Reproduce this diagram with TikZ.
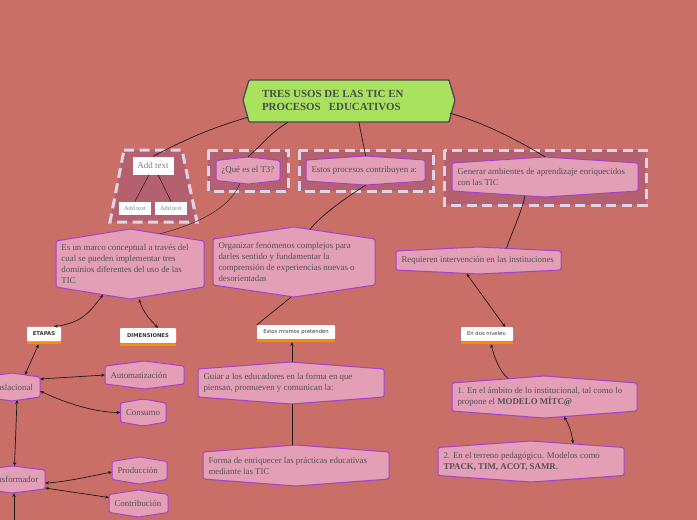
\documentclass[tikz,border=0pt]{standalone}
\usepackage{fontspec}
\setmainfont{Liberation Serif}
\newfontfamily\tagfont{DejaVu Sans}
\usetikzlibrary{arrows.meta,shadows}
\definecolor{mapbg}{HTML}{C96F67}
\definecolor{hexfill}{HTML}{E29FB6}
\definecolor{hexedge}{HTML}{A83FD2}
\definecolor{groupfill}{HTML}{B5606F}
\definecolor{groupdash}{HTML}{E2D3EA}
\definecolor{topfill}{HTML}{A8E25F}
\definecolor{textgray}{HTML}{555055}
\tikzset{
    hexshape/.style={fill=hexfill, draw=hexedge, line width=1pt, rounded corners=1.5pt,
        drop shadow={shadow xshift=0.6pt, shadow yshift=-0.8pt, opacity=0.2}},
    hexbox/.style={inner sep=0pt, text=textgray, font=\fontsize{8.85}{11}\selectfont},
    groupbox/.style={fill=groupfill, draw=groupdash, line width=3pt, dash pattern=on 10pt off 5.5pt},
    tagbox/.style={fill=white, rounded corners=1pt, inner sep=0pt, text=black!80,
        font=\tagfont\fontsize{5.3}{6}\selectfont,
        append after command={([yshift=-1.7pt]\tikzlastnode.south west) edge[draw=orange!90!yellow, line width=2pt]
            ([yshift=-1.7pt]\tikzlastnode.south east)}},
    addbox/.style={fill=white, inner sep=0pt, text=black!50, drop shadow={shadow xshift=0.5pt, shadow yshift=-0.7pt, opacity=0.2}},
    link/.style={draw=black!90, line width=0.7pt},
    twoway/.style={link, {Stealth[length=3.6pt,width=3.2pt]}-{Stealth[length=3.6pt,width=3.2pt]}},
    oneway/.style={link, -{Stealth[length=3.6pt,width=3.2pt]}}
}
% width, left inset, text
\newcommand{\insetlines}[3]{\hbox to #1pt{\hskip #2pt\parbox{\dimexpr #1pt-#2pt\relax}{\raggedright #3}\hss}}
% name, left, top, right, bottom, rise, text
\newcommand{\hexnode}[7]{
    \draw[hexshape] (#2,#3+#6) -- ({(#2+#4)/2},#3) -- (#4,#3+#6) -- (#4,#5-#6) -- ({(#2+#4)/2},#5) -- (#2,#5-#6) -- cycle;
    \pgfmathsetmacro{\hexwidth}{#4-#2}
    \pgfmathsetmacro{\hexheight}{#5-#3}
    \node[hexbox, minimum height=\hexheight pt] (#1) at ({(#2+#4)/2},{(#3+#5)/2}) {\insetlines{\hexwidth}{5.5}{#7}};
}
\begin{document}
\begin{tikzpicture}[x=1pt,y=-1pt]
    \useasboundingbox[fill=mapbg] (0,0) rectangle (697,520);
    % dashed groups
    \draw[groupbox] (124,150) -- (182,150) -- (197,222) -- (110,222) -- cycle;
    \draw[groupbox] (208,150) rectangle (288,191);
    \draw[groupbox] (299,150) rectangle (433,191);
    \draw[groupbox] (444,150) rectangle (646,205);
    % title
    \draw[fill=topfill, draw=black!70, line width=1.3pt, rounded corners=1pt,
        drop shadow={shadow xshift=0.6pt, shadow yshift=-0.8pt, opacity=0.2}]
        (243,100) -- (249,80) -- (449,80) -- (455,100) -- (449,122) -- (249,122) -- cycle;
    \node[inner sep=0pt, minimum height=43pt, text=black!70, font=\fontsize{10.9}{13.2}\selectfont\bfseries]
        (main) at (349,100.5) {\insetlines{212}{19}{TRES USOS DE LAS TIC EN\\PROCESOS\ \ \ EDUCATIVOS}};
    % add text
    \node[addbox, minimum width=41pt, minimum height=18pt, font=\fontsize{9}{10}\selectfont] (addtop) at (153,165.5) {Add text};
    \foreach \name/\x in {addleft/135, addright/171}
        \node[addbox, minimum width=32pt, minimum height=13pt, font=\fontsize{6.3}{7}\selectfont] (\name) at (\x,208) {Add text};
    \draw[link, line width=0.5pt] ([xshift=-4pt]addtop.south) -- (addleft.north);
    \draw[link, line width=0.5pt] ([xshift=5pt]addtop.south) -- (addright.north);
    % text boxes
    \hexnode{que}{216}{157}{280}{184}{3.5}{¿Qué es el T3?}
    \hexnode{estos}{306}{156}{425}{185}{4}{Estos procesos contribuyen a:}
    \hexnode{generar}{452}{157}{638}{197}{6}{Generar ambientes de aprendizaje enriquecidos\\con las TIC}
    \hexnode{marco}{56}{229}{204}{299}{12}{Es un marco conceptual a través del\\cual se pueden implementar tres\\dominios diferentes del uso de las\\TIC}
    \hexnode{organizar}{213}{227}{375}{297}{12}{Organizar fenómenos complejos para\\darles sentido y fundamentar la\\comprensión de experiencias nuevas o\\desorientadas}
    \hexnode{requieren}{396}{247}{561}{274}{4}{Requieren intervención en las instituciones}
    \hexnode{guiar}{198}{362}{384}{404}{7}{Guiar a los educadores en la forma en que\\piensan, promueven y comunican la:}
    \hexnode{forma}{203}{445}{389}{486}{7}{Forma de enriquecer las prácticas educativas\\mediante las TIC}
    \hexnode{uno}{452}{376}{637}{418}{7}{1. En el ámbito de lo institucional, tal como lo\\propone el \textbf{MODELO MÍTC@}}
    \hexnode{dos}{438}{441}{624}{482}{6.5}{2. En el terreno pedagógico. Modelos como\\\textbf{TPACK, TIM, ACOT, SAMR.}}
    \hexnode{auto}{105}{361}{184}{389}{5}{Automatización}
    \hexnode{consumo}{120.5}{399}{166}{426}{4}{Consumo}
    \hexnode{produccion}{112}{457}{167}{484}{4.5}{Producción}
    \hexnode{contrib}{109}{490}{168}{517}{4.5}{Contribución}
    \hexnode{trasl}{-16}{373}{40}{401}{4}{Traslacional}
    \hexnode{transf}{-20}{466}{45}{493}{4}{Transformador}
    % tags
    \node[tagbox, minimum width=34pt, minimum height=14.5pt] (etapas) at (44,334) {\textbf{ETAPAS}};
    \node[tagbox, minimum width=56pt, minimum height=15pt] (dimen) at (148,335.5) {\textbf{DIMENSIONES}};
    \node[tagbox, minimum width=78pt, minimum height=14pt] (pretenden) at (296,332) {Estos mismos pretenden};
    \node[tagbox, minimum width=52pt, minimum height=14pt] (niveles) at (487,334) {En dos niveles:};
    \coordinate (transfend) at (14,522);
    % connectors
    \draw[link] ([xshift=-101pt,yshift=5pt]main.south) .. controls +(-40,12) and +(35,-18) .. (addtop.north);
    \draw[link] ([xshift=-61pt]main.south) .. controls +(-18,11) and +(14,-12) .. (que.north);
    \draw[link] ([xshift=10pt]main.south) .. controls +(2,12) and +(-2,-12) .. (estos.north);
    \draw[link] ([xshift=101pt,yshift=9pt]main.south) .. controls +(35,10) and +(-30,-18) .. (generar.north);
    \draw[link, line width=0.4pt] ([xshift=-8pt,yshift=1pt]que.south) .. controls +(-10,25) and +(38,-10) .. ([xshift=30pt,yshift=-5pt]marco.north);
    \draw[link] (estos.south) .. controls +(-28,18) and +(10,-12) .. ([xshift=16pt,yshift=-2.4pt]organizar.north);
    \draw[link] ([xshift=-20pt,yshift=1.3pt]generar.south) .. controls +(-4,18) and +(5,-15) .. ([xshift=28pt,yshift=-1.4pt]requieren.north);
    \draw[twoway] ([xshift=-12pt,yshift=0.6pt]requieren.south) -- ([xshift=18pt]niveles.north);
    \draw[link] ([xshift=-3pt]organizar.south) -- (pretenden.north west);
    \draw[oneway] ([xshift=1pt]guiar.north) -- ([xshift=-4pt,yshift=-3pt]pretenden.south);
    \draw[link] ([xshift=1pt]guiar.south) -- ([xshift=-4pt,yshift=-0.5pt]forma.north);
    \draw[oneway] ([xshift=-36.5pt,yshift=-2.7pt]uno.north) .. controls +(-9,-8) and +(3,12) .. ([xshift=4pt,yshift=-3pt]niveles.south);
    \draw[twoway] ([xshift=19.5pt,yshift=1.5pt]uno.south) .. controls +(5,8) and +(-1,-10) .. ([xshift=42pt,yshift=-2.7pt]dos.north);
    \draw[twoway] ([xshift=-27pt,yshift=4.4pt]marco.south) .. controls +(-14,18) and +(28,-4) .. ([xshift=10pt]etapas.north);
    \draw[twoway] ([xshift=9pt]marco.south) .. controls +(4,12) and +(-10,-10) .. ([xshift=10pt]dimen.north);
    \draw[twoway] ([xshift=-5.5pt,yshift=-3pt]etapas.south) -- ([xshift=13pt,yshift=-2pt]trasl.north);
    \draw[twoway] ([yshift=8pt]trasl.east) -- (auto.west);
    \draw[twoway] ([yshift=-4pt]trasl.east) .. controls +(25,12) and +(-25,0) .. (consumo.west);
    \draw[twoway] ([xshift=5pt,yshift=1pt]trasl.south) -- ([xshift=2pt]transf.north);
    \draw[twoway] ([yshift=-3.5pt]transf.east) .. controls +(20,-1) and +(-20,4) .. ([yshift=-1.5pt]produccion.west);
    \draw[twoway] ([yshift=-8.5pt]transf.east) .. controls +(20,3) and +(-20,-3) .. ([yshift=6pt]contrib.west);
    \draw[oneway] (transfend) -- ([xshift=1.5pt]transf.south);
\end{tikzpicture}
\end{document}
